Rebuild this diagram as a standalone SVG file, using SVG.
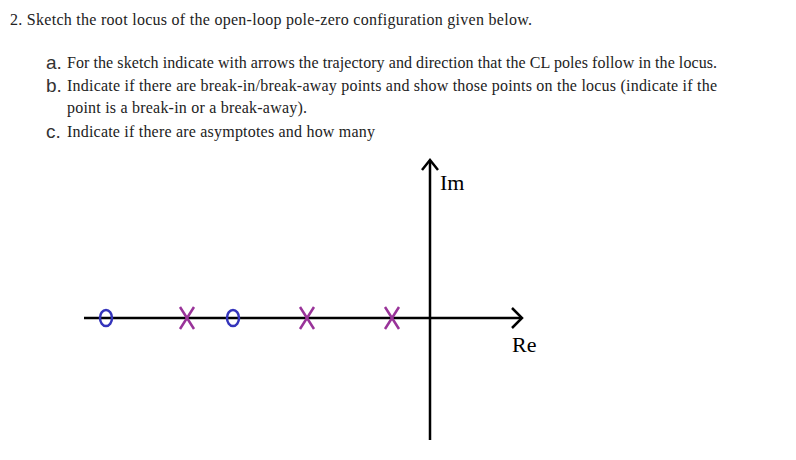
<svg xmlns="http://www.w3.org/2000/svg" width="796" height="460" viewBox="0 0 796 460">
<style>
.t{font-family:"Liberation Serif",serif;font-size:16px;fill:#222}
.l{font-family:"Liberation Sans",sans-serif;font-size:19px;fill:#333}
.ax{stroke:#000;stroke-width:2.5;fill:none}
.z{stroke:#3333bb;stroke-width:2.5;fill:none}
.p{stroke:#993399;stroke-width:2.5;fill:none}
.big{font-family:"Liberation Serif",serif;font-size:22px;fill:#000}
</style>
<rect width="796" height="460" fill="#fff"/>
<text class="t" x="10" y="25" textLength="522">2. Sketch  the root locus of the open-loop pole-zero configuration given below.</text>
<text class="l" x="46" y="69">a.</text><text class="t" x="67" y="68" textLength="650">For the sketch indicate with arrows the trajectory and direction that the CL poles follow in the locus.</text>
<text class="l" x="46" y="92">b.</text><text class="t" x="67" y="91" textLength="650">Indicate if there are break-in/break-away points and show those points on the locus (indicate if the</text>
<text class="t" x="67" y="113" textLength="240">point is a break-in or a break-away).</text>
<text class="l" x="46" y="138">c.</text><text class="t" x="67" y="137" textLength="308">Indicate if there are asymptotes and how many</text>
<g id="axes" class="ax">
<line x1="84" y1="318" x2="522" y2="318"/>
<polyline points="512,308 522,318 512,328"/>
<line x1="430" y1="162" x2="430" y2="440"/>
<polyline points="422,170 430,160 438,170"/>
</g>
<text class="big" x="440" y="190">Im</text>
<text class="big" x="512" y="352">Re</text>
<g id="zero1"><ellipse class="z" cx="106" cy="318" rx="6" ry="8"/></g>
<g id="zero2"><ellipse class="z" cx="233" cy="318" rx="6" ry="8"/></g>
<g id="pole1"><path class="p" d="M180,307 L194,329 M194,307 L180,329"/></g>
<g id="pole2"><path class="p" d="M300,307 L314,329 M314,307 L300,329"/></g>
<g id="pole3"><path class="p" d="M385,307 L399,329 M399,307 L385,329"/></g>
</svg>
